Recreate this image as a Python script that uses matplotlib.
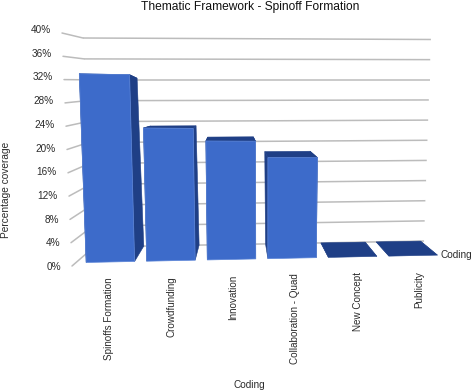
import numpy as np
import matplotlib
matplotlib.use("Agg")
import matplotlib.pyplot as plt
from matplotlib.patches import Polygon

plt.rcParams['font.family'] = ['Liberation Sans', 'DejaVu Sans']

# ---- data ----
categories = ["Spinoffs Formation", "Crowdfunding", "Innovation",
              "Collaboration - Quad", "New Concept", "Publicity"]
coverage = [32.3, 23.1, 20.9, 18.0, 0.0, 0.0]
y_ticks = [0, 4, 8, 12, 16, 20, 24, 28, 32, 36, 40]
y_tick_labels = [f"{t}%" for t in y_ticks]
title = "Thematic Framework - Spinoff Formation"
x_title = "Coding"
y_title = "Percentage coverage"
depth_title = "Coding"

# ---- projection of the fake 3-D box (corner anchors in figure pixels) ----
V_MAX = 40.0
FRONT = {"l0": (80.1, 262.6), "r0": (443.5, 255.0), "lt": (71.3, 28.6), "rt": (452.0, 39.0)}
BACK = {"l0": (94.0, 247.0), "r0": (426.0, 241.0), "lt": (83.0, 38.0), "rt": (433.0, 39.5)}
TICK_END = {"l0": (72.0, 266.0), "lt": (62.0, 33.0)}
GRID_END = 0.994


def bilinear(plane, u, v):
    t = v / V_MAX
    l0, r0, lt, rt = (np.array(plane[k]) for k in ("l0", "r0", "lt", "rt"))
    bottom = l0 + (r0 - l0) * u
    top = lt + (rt - lt) * u
    return bottom + (top - bottom) * t


def project(u, v, z):
    """u: 0-1 across the categories, v: value, z: 0 front - 1 back."""
    f = bilinear(FRONT, u, v)
    b = bilinear(BACK, u, v)
    return tuple(f + (b - f) * z)


n = len(categories)
BAR_HALF = 0.40
FRONT_COLOR = "#3d6bca"
DARK_COLOR = "#1f3f86"
GRID_COLOR = "#bcbcbc"
TEXT_COLOR = "#2b2b2b"

fig = plt.figure(figsize=(4.74, 3.92), dpi=100)
ax = fig.add_axes([0, 0, 1, 1])
ax.set_xlim(0, 474)
ax.set_ylim(392, 0)
ax.axis("off")

# gridlines on the back wall and side wall
for t, lab in zip(y_ticks, y_tick_labels):
    a = project(0, t, 1)
    b = project(GRID_END, t, 1)
    ax.plot([a[0], b[0]], [a[1], b[1]], color=GRID_COLOR, lw=1.1, zorder=1,
            solid_capstyle="butt")
    frac = t / V_MAX
    e0 = np.array(TICK_END["l0"])
    e1 = np.array(TICK_END["lt"])
    end = e0 + (e1 - e0) * frac
    ax.plot([end[0], a[0]], [end[1], a[1]], color=GRID_COLOR, lw=1.1, zorder=1,
            solid_capstyle="round")
    ax.text(end[0] - 11, end[1] + 1 - 4 * frac, lab, ha="right", va="center",
            fontsize=7.2, color=TEXT_COLOR)

# bars
for i, (cat, val) in enumerate(zip(categories, coverage)):
    ul = (i + 0.5 - BAR_HALF) / n
    ur = (i + 0.5 + BAR_HALF) / n
    z0 = 2 + i

    def face(*corners):
        return Polygon([project(*c) for c in corners], closed=True, zorder=z0,
                       facecolor=DARK_COLOR, edgecolor=DARK_COLOR, lw=0.4)

    ax.add_patch(face((ul, 0, 0), (ul, val, 0), (ul, val, 1), (ul, 0, 1)))
    ax.add_patch(face((ur, 0, 0), (ur, val, 0), (ur, val, 1), (ur, 0, 1)))
    ax.add_patch(face((ul, val, 0), (ur, val, 0), (ur, val, 1), (ul, val, 1)))
    if val > 0:
        ax.add_patch(Polygon([project(ul, 0, 0), project(ur, 0, 0),
                              project(ur, val, 0), project(ul, val, 0)],
                             closed=True, zorder=z0 + 0.5,
                             facecolor=FRONT_COLOR, edgecolor="#5a84d8", lw=0.5))
    lx, ly = project((i + 0.5) / n, 0, -0.3)
    ax.text(lx + 2, ly + 11, cat, rotation=90, ha="center", va="top",
            fontsize=7.1, color=TEXT_COLOR)

# texts
ax.text(250.5, 6.5, title, ha="center", va="center", fontsize=8.65, color="#111111")
ax.text(249.5, 385, x_title, ha="center", va="center", fontsize=7.2, color=TEXT_COLOR)
ax.text(456.5, 255.5, depth_title, ha="center", va="center", fontsize=7.2, color=TEXT_COLOR)
ax.text(6.5, 190, y_title, rotation=90, ha="center", va="center", fontsize=7.3,
        color=TEXT_COLOR)

fig.savefig("out.png", dpi=100)
